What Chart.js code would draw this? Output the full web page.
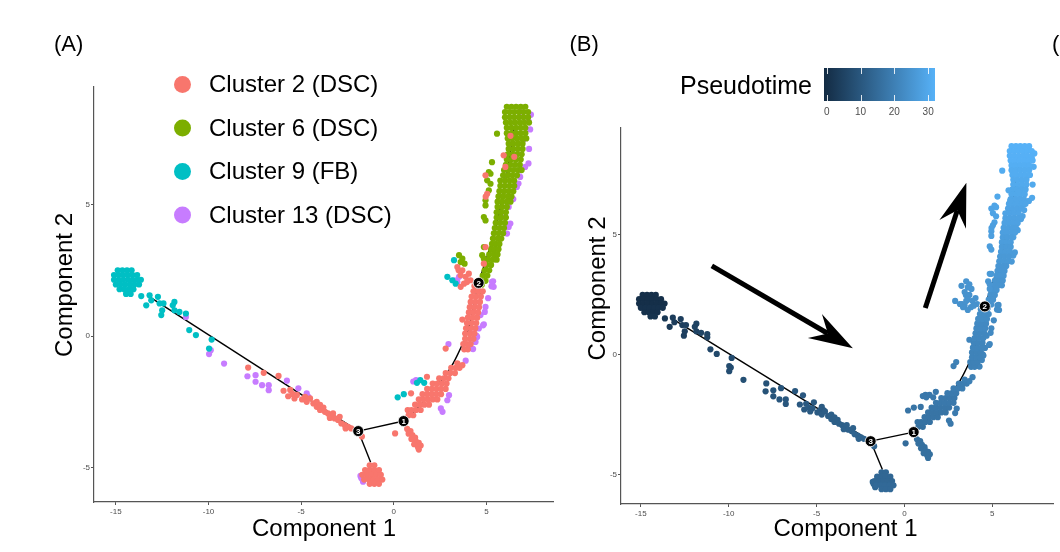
<!DOCTYPE html>
<html>
<head>
<meta charset="utf-8">
<script src="https://cdn.jsdelivr.net/npm/chart.js@4.4.0/dist/chart.umd.min.js"></script>
<style>
  html, body { margin: 0; padding: 0; background: #fff; }
  #wrap { position: relative; width: 1060px; height: 552px; overflow: hidden; }
  canvas { position: absolute; top: 0; }
  #chartA { left: 0; }
  #chartB { left: 560px; }
</style>
</head>
<body>
<div id="wrap">
  <canvas id="chartA" width="560" height="552"></canvas>
  <canvas id="chartB" width="500" height="552"></canvas>
</div>
<script>
// axis ticks
const xTicks = [-15, -10, -5, 0, 5];
const xTickLabels = ['-15', '-10', '-5', '0', '5'];
const yTicks = [-5, 0, 5];
const yTickLabels = ['-5', '0', '5'];

const clusterNames = ['Cluster 2 (DSC)', 'Cluster 6 (DSC)', 'Cluster 9 (FB)', 'Cluster 13 (DSC)'];
const clusterColors = ['#F8766D', '#7CAE00', '#00BFC4', '#C77CFF'];

// pseudotime colour bar
const ptTicks = [0, 10, 20, 30];
const ptRange = [0, 31.2];

// cells: each row is [component 2, pseudotime, component 1 values...]
const cluster2Rows = [
  [-1.19, 9, -7.86], [-1.39, 9.5, -7.02], [-1.51, 10, -6.22], [-2.07, 10.5, -5.95], [-2.04, 10.5, -5.59], [-2.28, 10.5, -5.7],
  [-2.19, 11, -5.47], [-2.36, 11, -5.36], [-2.23, 11, -5.23], [-2.3, 11, -4.79], [-2.4, 11, -4.95],
  [-2.49, 11.5, -4.7], [-2.36, 11.5, -4.52], [-2.55, 11.5, -4.34],
  [-2.68, 12, -4.16], [-2.49, 12, -4.16], [-2.61, 12, -3.98], [-2.8, 12, -3.98], [-2.71, 12, -3.8], [-2.87, 12, -3.72], [-2.93, 12, -3.55],
  [-3.0, 12.5, -3.37], [-3.1, 12.5, -3.45], [-2.93, 12.5, -3.28], [-3.12, 12.5, -3.19], [-3.18, 12.5, -3.01], [-3.06, 12.5, -2.92],
  [-3.31, 13, -2.83], [-3.37, 13, -2.65], [-3.5, 13, -2.6], [-3.44, 13, -2.47], [-3.5, 13, -2.3], [-3.81, 13.5, -1.72],
  [-4.9, 14, -1.3, -1.05],
  [-5.08, 14, -1.55, -1.3, -1.05, -0.8],
  [-5.26, 14, -1.7, -1.45, -1.2, -0.95, -0.7],
  [-5.44, 14.5, -1.6, -1.35, -1.1, -0.85, -0.62],
  [-5.6, 14.5, -1.3, -1.05, -0.8],
  [-3.69, 15, 0.07],
  [-3.52, 16, 0.72], [-3.6, 16, 0.9], [-3.7, 16, 0.8], [-3.75, 16, 1.0], [-3.85, 16, 1.15], [-3.9, 16, 0.95],
  [-4.0, 16, 1.2], [-4.05, 16, 1.35], [-4.1, 16, 1.1], [-4.2, 16, 1.3], [-4.15, 16, 1.45], [-4.3, 16, 1.35],
  [-3.0, 16, 0.8, 1.05], [-2.8, 16.5, 0.75, 0.95, 1.2, 1.45], [-2.6, 17, 1.15, 1.4, 1.65, 1.9],
  [-2.4, 17, 1.35, 1.6, 1.85, 2.1, 2.35], [-2.2, 17.5, 1.55, 1.8, 2.05, 2.3, 2.55], [-2.17, 17, 0.93],
  [-2.0, 18, 1.8, 2.05, 2.3, 2.55, 2.8], [-1.8, 18, 2.1, 2.35, 2.6, 2.85], [-1.6, 18.5, 2.45, 2.7, 2.95], [-1.54, 18, 1.79],
  [-1.4, 19, 2.8, 3.05, 3.3], [-1.2, 19, 3.1, 3.35, 3.55], [-1.1, 19.5, 3.7], [-1.03, 19.5, 3.43], [-0.47, 19.5, 2.8],
  [-0.5, 20, 3.8, 4.0], [-0.3, 20, 3.75, 3.95, 4.15], [-0.1, 20.5, 3.85, 4.1, 4.3],
  [0.1, 20.5, 3.85, 4.1, 4.35], [0.3, 21, 3.9, 4.15, 4.4], [0.5, 21, 3.95, 4.2, 4.45], [0.63, 21, 3.7],
  [0.7, 21.5, 4.0, 4.25, 4.5], [0.9, 21.5, 4.05, 4.3, 4.55], [1.1, 22, 4.1, 4.35, 4.6], [1.3, 22, 4.15, 4.4, 4.65],
  [1.5, 22.5, 4.2, 4.45, 4.7], [1.7, 22.5, 4.3, 4.55, 4.8], [1.9, 23, 4.35, 4.6],
  [2.62, 24, 3.43], [2.5, 24, 3.5, 3.7], [2.31, 24, 3.61], [2.25, 24, 3.88], [2.37, 24, 4.05], [2.12, 24, 4.14],
  [1.99, 24, 3.79], [1.87, 24, 3.61], [2.05, 24, 3.95],
  [2.75, 25, 4.86], [3.38, 25.5, 4.95], [5.29, 27, 4.96], [5.4, 27, 5.04], [6.1, 28, 4.95], [6.42, 28.5, 6.02],
  [6.86, 29, 5.93], [6.8, 29, 6.5], [7.6, 30, 6.3]
];

const cluster6Rows = [
  [8.7, 32, 6.1, 6.35, 6.6, 6.85, 7.1],
  [8.5, 31.5, 6.0, 6.25, 6.5, 6.75, 7.0, 7.25],
  [8.3, 31, 6.0, 6.25, 6.5, 6.75, 7.0, 7.25],
  [8.1, 31, 6.05, 6.3, 6.55, 6.8, 7.05, 7.3],
  [7.9, 30.5, 6.1, 6.35, 6.6, 6.85, 7.1],
  [7.7, 30, 6.1, 6.35, 6.6, 6.85, 7.1],
  [7.5, 30, 6.15, 6.4, 6.65, 6.9, 7.15],
  [7.3, 29.5, 6.2, 6.45, 6.7, 6.95],
  [7.1, 29.5, 6.2, 6.45, 6.7, 6.95],
  [6.9, 29, 6.15, 6.4, 6.65, 6.9],
  [6.7, 29, 6.1, 6.35, 6.6, 6.85],
  [6.5, 28.5, 6.05, 6.3, 6.55, 6.8],
  [6.3, 28.5, 5.95, 6.2, 6.45, 6.7, 6.9],
  [6.1, 28, 5.9, 6.15, 6.4, 6.65],
  [5.9, 28, 5.75, 6.0, 6.25, 6.5],
  [5.7, 27.5, 5.75, 6.0, 6.25, 6.5],
  [5.5, 27.5, 5.7, 5.95, 6.2, 6.45],
  [5.3, 27, 5.65, 5.9, 6.15, 6.35],
  [5.1, 27, 5.6, 5.85, 6.1, 6.3],
  [4.9, 26.5, 5.6, 5.85, 6.1],
  [4.7, 26.5, 5.55, 5.8, 6.05],
  [4.5, 26, 5.55, 5.8, 6.05],
  [4.3, 26, 5.5, 5.75, 6.0],
  [4.1, 25.5, 5.45, 5.7, 5.95],
  [3.9, 25.5, 5.4, 5.65, 5.9],
  [3.7, 25, 5.35, 5.6, 5.8],
  [3.5, 25, 5.3, 5.5, 5.7],
  [3.3, 25, 5.25, 5.45, 5.65],
  [3.1, 24.5, 5.15, 5.4, 5.6],
  [2.9, 24.5, 5.1, 5.35, 5.55],
  [2.7, 24.5, 5.0, 5.25],
  [2.5, 24, 4.9, 5.15],
  [2.3, 24, 4.8, 5.05],
  [2.1, 24, 4.7, 4.95],
  [7.68, 30, 5.57], [6.6, 29, 5.3], [6.22, 28.5, 5.13], [6.16, 28.5, 5.22], [5.91, 28, 5.04], [5.78, 28, 5.22], [5.53, 27.5, 5.13],
  [5.15, 27, 4.95], [4.96, 27, 4.95], [4.52, 26.5, 4.86], [4.39, 26.5, 4.95], [3.38, 25.5, 4.86], [3.07, 25, 4.77], [2.94, 25, 4.86],
  [3.07, 24.5, 3.52], [2.94, 24.5, 3.7], [2.75, 24.5, 3.82], [2.81, 24.5, 3.61], [1.7, 23, 4.6], [1.95, 23.5, 4.75]
];

const cluster9Rows = [
  [2.5, 1, -14.9, -14.65, -14.4, -14.15],
  [2.32, 1, -15.1, -14.85, -14.6, -14.35, -14.1, -13.85],
  [2.14, 1, -15.1, -14.85, -14.6, -14.35, -14.1, -13.85, -13.65],
  [1.96, 1.5, -15.0, -14.75, -14.5, -14.25, -14.0, -13.75],
  [1.78, 1.5, -14.8, -14.55, -14.3, -14.05],
  [1.6, 2, -14.45, -14.2],
  [1.52, 3, -13.63], [1.17, 3.5, -13.36], [1.55, 4, -13.18], [1.36, 4, -13.09], [1.49, 4.5, -12.73], [1.24, 4.5, -12.64],
  [0.8, 5, -12.55], [0.98, 5, -12.5], [1.24, 5, -12.43], [1.3, 5.5, -11.84], [0.98, 5.5, -11.84], [1.17, 5.5, -11.93],
  [0.92, 6, -11.57], [0.86, 6, -11.22], [0.23, 6.5, -11.04], [0.04, 7, -10.68], [-0.13, 7.5, -9.83], [-0.47, 7.5, -9.97],
  [-2.32, 17, 0.21], [-2.2, 17, 0.54], [-1.77, 18, 1.25, 1.64], [-1.67, 18, 1.43],
  [2.25, 24, 2.89], [2.12, 24, 3.16], [2.88, 24, 3.25], [1.99, 24, 3.34]
];

const cluster13Rows = [
  [0.73, 6, -11.22], [-0.53, 8, -9.88], [-0.68, 8, -9.97], [-1.04, 8.5, -9.16], [-1.52, 9, -7.9], [-1.48, 9.5, -7.46], [-1.73, 9.5, -7.46],
  [-1.86, 10, -7.11, -6.75], [-2.05, 10, -6.75], [-1.69, 10.5, -5.77], [-1.98, 11, -5.15], [-2.17, 11, -4.7], [-2.3, 11, -4.61],
  [-5.39, 14, -1.75], [-5.52, 14, -1.66], [-5.3, 14, -1.8],
  [-1.67, 18, 1.2], [-1.72, 18, 1.05], [-2.74, 18, 2.54], [-2.87, 18, 2.63], [-2.43, 18.5, 2.89], [-2.24, 18.5, 2.98],
  [-0.3, 20, 2.95], [-0.93, 20, 3.88], [-0.37, 20.5, 4.1], [-0.49, 20.5, 4.28], [-0.47, 20.5, 4.23],
  [0.1, 21, 4.32], [-0.03, 21, 4.5], [-0.22, 21, 4.41], [0.29, 21, 4.59], [0.02, 21, 4.46], [0.45, 21.5, 4.86], [0.41, 21.5, 4.82], [0.8, 21.5, 4.68],
  [1.11, 22, 4.95], [0.92, 22, 4.91], [1.44, 22, 5.09], [1.89, 23, 5.27], [2.08, 23, 5.36], [2.06, 23, 5.3], [1.87, 23, 5.39],
  [2.05, 24, 3.43], [2.25, 24, 3.52], [2.12, 24, 3.28],
  [3.89, 25.5, 6.11], [4.14, 26, 6.2], [4.27, 26, 6.29], [4.52, 26, 6.02], [4.9, 27, 6.2], [5.2, 27, 6.45], [5.66, 27.5, 6.64], [5.79, 27.5, 6.73],
  [6.04, 28, 6.82], [6.29, 28, 6.82], [6.42, 28.5, 7.09], [6.55, 29, 7.27], [7.1, 29.5, 7.3], [7.46, 30, 7.0], [7.84, 30, 7.36],
  [8.16, 31, 7.27], [8.4, 31.5, 7.4], [8.51, 31.5, 6.82]
];

// principal graph
const trajectory = [
  [[-13.18, 1.49], [-1.92, -3.6]],
  [[-1.92, -3.6], [-1.25, -4.78]],
  [[-1.92, -3.6], [0.53, -3.22]],
  [[0.53, -3.22], [0.93, -2.99], [2.0, -2.15], [2.98, -1.29], [3.43, -0.72], [3.97, 0.16], [4.23, 0.86], [4.58, 2.02], [5.48, 4.02], [6.08, 6.07], [6.5, 7.9]]
];
const branchNodes = [[-1.92, -3.6], [0.53, -3.22], [4.58, 2.02]];
const branchLabels = ['3', '1', '2'];

// direction arrows in panel B: [x0, y0, x1, y1]
const arrows = [[-10.96, 3.71, -2.93, 0.28], [1.19, 1.95, 3.53, 7.18]];

const FONT = "'Liberation Sans', Arial, sans-serif";
Chart.defaults.font.family = FONT;
Chart.defaults.color = '#4d4d4d';

const toPoints = rows => rows.flatMap(([y, t, ...xs]) => xs.map(x => ({ x, y, t })));
const clusterRows = [cluster2Rows, cluster6Rows, cluster9Rows, cluster13Rows];

const LOW = [0x13, 0x2B, 0x43], HIGH = [0x56, 0xB1, 0xF7];
function ptColor(t) {
  const f = Math.min(1, Math.max(0, (t - ptRange[0]) / (ptRange[1] - ptRange[0])));
  return 'rgb(' + LOW.map((v, i) => Math.round(v + (HIGH[i] - v) * f)).join(',') + ')';
}

function buildScales(box) {
  const common = {
    type: 'linear',
    grid: { display: true, drawOnChartArea: false, drawTicks: true, tickLength: 3, color: '#555', lineWidth: 1 },
    border: { display: true, color: '#555', width: 1.2 }
  };
  return {
    x: Object.assign({}, common, {
      min: box.xMin, max: box.xMax,
      afterBuildTicks: s => { s.ticks = xTicks.map(v => ({ value: v })); },
      afterFit: s => { s.height = box.xAxisHeight; },
      ticks: { font: { size: 8 }, color: '#4d4d4d', padding: 2, maxRotation: 0, autoSkip: false,
               callback: v => xTickLabels[xTicks.indexOf(v)] }
    }),
    y: Object.assign({}, common, {
      min: box.yMin, max: box.yMax,
      afterBuildTicks: s => { s.ticks = yTicks.map(v => ({ value: v })); },
      afterFit: s => { s.width = box.yAxisWidth; },
      ticks: { font: { size: 8 }, color: '#4d4d4d', padding: 1, autoSkip: false,
               callback: v => yTickLabels[yTicks.indexOf(v)] }
    })
  };
}

function graphDatasets() {
  const lines = trajectory.map((seg, i) => ({
    type: 'line',
    data: seg.map(([x, y]) => ({ x, y })),
    showLine: true,
    borderColor: '#000',
    borderWidth: 1.4,
    pointRadius: 0,
    tension: i === 3 ? 0.25 : 0,
    order: 10
  }));
  const nodes = {
    data: branchNodes.map(([x, y]) => ({ x, y })),
    pointRadius: 5.5,
    backgroundColor: '#000',
    borderColor: '#fff',
    borderWidth: 0.8,
    order: 0
  };
  return lines.concat([nodes]);
}

const nodeLabels = {
  id: 'nodeLabels',
  afterDatasetsDraw(chart) {
    const c = chart.ctx, sx = chart.scales.x, sy = chart.scales.y;
    c.save();
    c.fillStyle = '#fff';
    c.font = 'bold 8px ' + FONT;
    c.textAlign = 'center';
    c.textBaseline = 'middle';
    branchNodes.forEach(([x, y], i) => {
      c.fillText(branchLabels[i], sx.getPixelForValue(x), sy.getPixelForValue(y) + 0.5);
    });
    c.restore();
  }
};

function drawAxisTitles(c, xCenter, yCenter, yBaseX) {
  c.fillStyle = '#000';
  c.font = '24px ' + FONT;
  c.textAlign = 'center';
  c.textBaseline = 'alphabetic';
  c.fillText('Component 1', xCenter, 536);
  c.save();
  c.translate(yBaseX, yCenter);
  c.rotate(-Math.PI / 2);
  c.fillText('Component 2', 0, 0);
  c.restore();
}

// ---------- Panel A ----------
const boxA = { xMin: -16.18, xMax: 8.63, yMin: -6.29, yMax: 9.45, yAxisWidth: 94, xAxisHeight: 50, top: 87, right: 3 };

const panelAText = {
  id: 'panelAText',
  afterDraw(chart) {
    const c = chart.ctx;
    c.save();
    c.fillStyle = '#000';
    c.font = '22px ' + FONT;
    c.textAlign = 'left';
    c.textBaseline = 'middle';
    c.fillText('(A)', 54, 45);
    clusterNames.forEach((name, i) => {
      const y = 84.5 + i * 43.5;
      c.fillStyle = clusterColors[i];
      c.beginPath();
      c.arc(182.5, y, 8.5, 0, Math.PI * 2);
      c.fill();
      c.fillStyle = '#000';
      c.font = '24px ' + FONT;
      c.textAlign = 'left';
      c.textBaseline = 'middle';
      c.fillText(name, 209, y + 1);
    });
    drawAxisTitles(c, 324, 285, 72);
    c.restore();
  }
};

new Chart(document.getElementById('chartA'), {
  type: 'scatter',
  data: {
    datasets: clusterRows.map((rows, i) => ({
      data: toPoints(rows),
      backgroundColor: clusterColors[i],
      borderWidth: 0,
      pointRadius: 3.1,
      order: 1 + i
    })).concat(graphDatasets())
  },
  options: {
    responsive: false,
    animation: false,
    devicePixelRatio: 1,
    events: [],
    layout: { padding: { left: 0, top: boxA.top, right: boxA.right, bottom: 0 } },
    scales: buildScales(boxA),
    plugins: { legend: { display: false }, tooltip: { enabled: false } }
  },
  plugins: [nodeLabels, panelAText]
});

// ---------- Panel B ----------
const boxB = { xMin: -16.13, xMax: 8.5, yMin: -6.22, yMax: 9.46, yAxisWidth: 61, xAxisHeight: 48, top: 128, right: 5 };
const bar = { left: 264, right: 375, top: 68, bottom: 101, inset: 2.8 };

function drawArrow(c, x0, y0, x1, y1) {
  const dx = x1 - x0, dy = y1 - y0, len = Math.hypot(dx, dy);
  const ux = dx / len, uy = dy / len, nx = -uy, ny = ux;
  const headLen = 44, half = 14, notch = 29;
  c.strokeStyle = '#000';
  c.fillStyle = '#000';
  c.lineWidth = 5;
  c.beginPath();
  c.moveTo(x0, y0);
  c.lineTo(x1 - ux * notch, y1 - uy * notch);
  c.stroke();
  c.beginPath();
  c.moveTo(x1, y1);
  c.lineTo(x1 - ux * headLen + nx * half, y1 - uy * headLen + ny * half);
  c.lineTo(x1 - ux * notch, y1 - uy * notch);
  c.lineTo(x1 - ux * headLen - nx * half, y1 - uy * headLen - ny * half);
  c.closePath();
  c.fill();
}

const panelBText = {
  id: 'panelBText',
  afterDatasetsDraw(chart) {
    const c = chart.ctx, sx = chart.scales.x, sy = chart.scales.y;
    c.save();
    arrows.forEach(([x0, y0, x1, y1]) => {
      drawArrow(c, sx.getPixelForValue(x0), sy.getPixelForValue(y0), sx.getPixelForValue(x1), sy.getPixelForValue(y1));
    });
    c.restore();
  },
  afterDraw(chart) {
    const c = chart.ctx;
    c.save();
    c.fillStyle = '#000';
    c.font = '22px ' + FONT;
    c.textAlign = 'left';
    c.textBaseline = 'middle';
    c.fillText('(B)', 9.5, 45);
    c.fillText('(C)', 492, 45);

    c.font = '25px ' + FONT;
    c.textBaseline = 'alphabetic';
    c.fillText('Pseudotime', 120, 94);

    const g = c.createLinearGradient(bar.left, 0, bar.right, 0);
    g.addColorStop(0, ptColor(ptRange[0]));
    g.addColorStop(0.5, ptColor((ptRange[0] + ptRange[1]) / 2));
    g.addColorStop(1, ptColor(ptRange[1]));
    c.fillStyle = g;
    c.fillRect(bar.left, bar.top, bar.right - bar.left, bar.bottom - bar.top);

    const tx = t => bar.left + bar.inset + (t - ptRange[0]) / (ptRange[1] - ptRange[0]) * (bar.right - bar.left - 2 * bar.inset);
    c.strokeStyle = 'rgba(255,255,255,0.85)';
    c.lineWidth = 1;
    c.fillStyle = '#4d4d4d';
    c.font = '10px ' + FONT;
    c.textAlign = 'center';
    c.textBaseline = 'middle';
    ptTicks.forEach(t => {
      const x = Math.round(tx(t)) + 0.5;
      c.beginPath();
      c.moveTo(x, bar.top); c.lineTo(x, bar.top + 6);
      c.moveTo(x, bar.bottom - 6); c.lineTo(x, bar.bottom);
      c.stroke();
      c.fillText(String(t), tx(t), 112.5);
    });

    drawAxisTitles(c, 285.5, 288.5, 45);
    c.restore();
  }
};

new Chart(document.getElementById('chartB'), {
  type: 'scatter',
  data: {
    datasets: clusterRows.map((rows, i) => ({
      data: toPoints(rows),
      backgroundColor: ctx => ptColor(ctx.raw ? ctx.raw.t : 0),
      borderWidth: 0,
      pointRadius: 3.1,
      order: 1 + i
    })).concat(graphDatasets())
  },
  options: {
    responsive: false,
    animation: false,
    devicePixelRatio: 1,
    events: [],
    layout: { padding: { left: 0, top: boxB.top, right: boxB.right, bottom: 0 } },
    scales: buildScales(boxB),
    plugins: { legend: { display: false }, tooltip: { enabled: false } }
  },
  plugins: [nodeLabels, panelBText]
});
</script>
</body>
</html>
